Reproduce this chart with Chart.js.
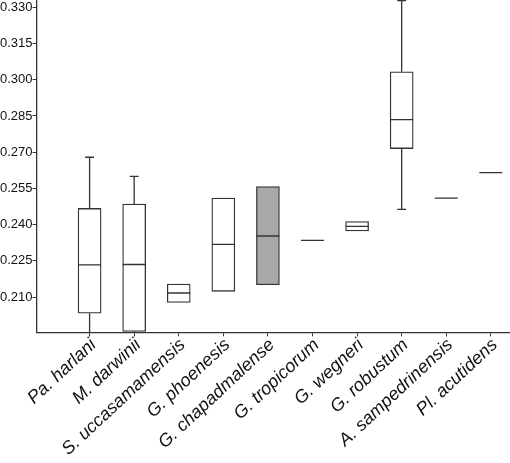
<!DOCTYPE html>
<html>
<head>
<meta charset="utf-8">
<script src="https://cdn.jsdelivr.net/npm/chart.js@4.4.1/dist/chart.umd.min.js"></script>
<style>
  html, body { margin: 0; padding: 0; background: #ffffff; }
  #wrap { width: 510px; height: 463px; }
</style>
</head>
<body>
<div id="wrap"><canvas id="c" width="510" height="463"></canvas></div>
<script>
const categories = ['Pa. harlani', 'M. darwinii', 'S. uccasamamensis', 'G. phoenesis', 'G. chapadmalense',
  'G. tropicorum', 'G. wegneri', 'G. robustum', 'A. sampedrinensis', 'Pl. acutidens'];
const whiskerLow = [0.1900, 0.1900, null, null, null, null, null, 0.2463, null, null];
const q1 = [0.2033, 0.1958, 0.2078, 0.2124, 0.2151, null, 0.2374, 0.2715, null, null];
const median = [0.2233, 0.2235, 0.2117, 0.2318, 0.2353, 0.2335, 0.2393, 0.2835, 0.2510, 0.2615];
const q3 = [0.2467, 0.2485, 0.2154, 0.2510, 0.2558, null, 0.2413, 0.3033, null, null];
const whiskerHigh = [0.2679, 0.2600, null, null, null, null, null, 0.3328, null, null];
const highlighted = [false, false, false, false, true, false, false, false, false, false];
const yTicks = [0.210, 0.225, 0.240, 0.255, 0.270, 0.285, 0.300, 0.315, 0.330];

const LINE = '#333333';
const BOX_HALF = 0.258;
const CAP_HALF = 0.1;

const boxData = categories.map((c, i) => ({
  x: i,
  y: (q1[i] !== null && q3[i] !== null) ? [q1[i], q3[i]] : null
}));
const boxFill = categories.map((c, i) => highlighted[i] ? '#a8a8a8' : '#ffffff');

const medianData = [];
categories.forEach((c, i) => {
  medianData.push({x: i - BOX_HALF, y: median[i]});
  medianData.push({x: i + BOX_HALF, y: median[i]});
  medianData.push({x: i, y: null});
});

const whiskerData = [];
categories.forEach((c, i) => {
  if (whiskerHigh[i] !== null) {
    whiskerData.push({x: i, y: q3[i]});
    whiskerData.push({x: i, y: whiskerHigh[i]});
    whiskerData.push({x: i, y: null});
    whiskerData.push({x: i - CAP_HALF, y: whiskerHigh[i]});
    whiskerData.push({x: i + CAP_HALF, y: whiskerHigh[i]});
    whiskerData.push({x: i, y: null});
  }
  if (whiskerLow[i] !== null) {
    whiskerData.push({x: i, y: q1[i]});
    whiskerData.push({x: i, y: whiskerLow[i]});
    whiskerData.push({x: i, y: null});
    whiskerData.push({x: i - CAP_HALF, y: whiskerLow[i]});
    whiskerData.push({x: i + CAP_HALF, y: whiskerLow[i]});
    whiskerData.push({x: i, y: null});
  }
});

new Chart(document.getElementById('c'), {
  type: 'bar',
  data: {
    datasets: [
      {
        type: 'line',
        data: whiskerData,
        borderColor: LINE,
        borderWidth: 1.3,
        pointRadius: 0,
        spanGaps: false,
        order: 3
      },
      {
        type: 'bar',
        data: boxData,
        backgroundColor: boxFill,
        borderColor: LINE,
        borderWidth: 1.3,
        borderSkipped: false,
        barThickness: 23,
        grouped: false,
        order: 2
      },
      {
        type: 'line',
        data: medianData,
        borderColor: LINE,
        borderWidth: 1.3,
        pointRadius: 0,
        spanGaps: false,
        order: 1
      }
    ]
  },
  options: {
    responsive: false,
    animation: false,
    layout: { padding: { top: 0, right: 0, bottom: 5, left: 0 } },
    plugins: { legend: { display: false }, tooltip: { enabled: false } },
    scales: {
      x: {
        type: 'linear',
        offset: false,
        min: -1.19,
        max: 9.43,
        afterBuildTicks: (scale) => { scale.ticks = categories.map((c, i) => ({ value: i })); },
        ticks: {
          autoSkip: false,
          minRotation: 43,
          maxRotation: 43,
          padding: -2,
          labelOffset: 4,
          color: '#111111',
          font: { family: '"Liberation Sans", Arial, sans-serif', size: 18, style: 'italic' },
          callback: (v) => categories[v]
        },
        grid: { display: true, drawOnChartArea: false, drawTicks: true, tickLength: 4, color: LINE, offset: false },
        border: { display: true, color: LINE, width: 1.3 }
      },
      y: {
        type: 'linear',
        min: 0.1954,
        max: 0.333,
        afterBuildTicks: (scale) => { scale.ticks = yTicks.map(v => ({ value: v })); },
        afterFit: (scale) => { scale.paddingTop = 0; scale.paddingBottom = 0; },
        ticks: {
          padding: 0,
          color: '#111111',
          font: { family: '"Liberation Sans", Arial, sans-serif', size: 13 },
          callback: (v) => v.toFixed(3)
        },
        grid: { display: true, drawOnChartArea: false, drawTicks: true, tickLength: 4, color: LINE },
        border: { display: true, color: LINE, width: 1.3 }
      }
    }
  }
});
</script>
</body>
</html>
